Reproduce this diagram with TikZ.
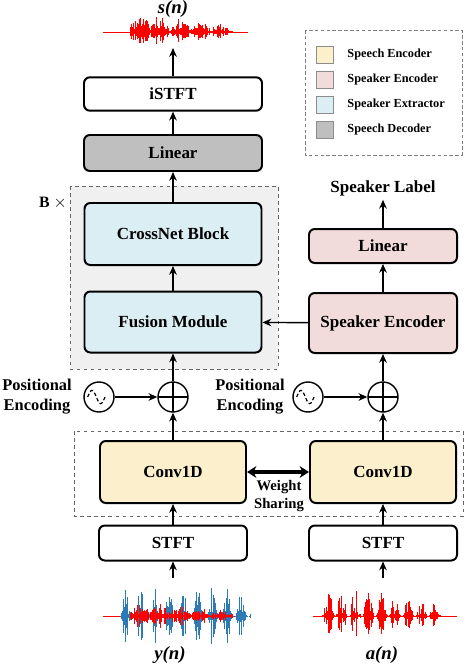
\documentclass[tikz,border=0pt]{standalone}
\usepackage{fontspec}
\setmainfont{Liberation Serif}
\usetikzlibrary{arrows.meta, positioning, calc}

\definecolor{encY}{HTML}{FCEFCB}
\definecolor{spkP}{HTML}{F2DCDB}
\definecolor{extB}{HTML}{DBEEF4}
\definecolor{decG}{HTML}{BFBFBF}
\definecolor{wavR}{HTML}{FF0000}
\definecolor{wavB}{HTML}{2C7BB6}

\tikzset{
  %% Module box
  mbox/.style={
    rectangle, rounded corners=5pt,
    draw=black, fill=#1,
    text centered, font=\bfseries\fontsize{14.5}{17}\selectfont,
    inner sep=2pt, line width=1.7pt
  },
  mbox/.default=white,
  %% Arrow
  arr/.style={-{Stealth[length=7.5pt,width=6.5pt]},
              draw=black, line width=1.2pt},
  %% Thick double arrow
  warr/.style={{Stealth[length=8pt,width=10pt]}-{Stealth[length=8pt,width=10pt]},
               draw=black, line width=2.8pt},
  %% Group frame
  grp/.style={draw=black!60, dashed, line width=0.7pt},
  %% Adder
  oplus/.style={
    circle, draw=black, line width=1.2pt, minimum size=9mm, inner sep=0pt,
    path picture={
      \draw[line width=1.2pt] (path picture bounding box.north) -- (path picture bounding box.south)
            (path picture bounding box.west) -- (path picture bounding box.east);}
  },
  %% Positional encoding
  pe/.style={
    circle, draw=black, line width=1.2pt, minimum size=9mm, inner sep=0pt,
    path picture={
      \draw[densely dashed, line width=1pt]
        ($(path picture bounding box.center)+(-3.4mm,0)$)
        sin ++(1.3mm,2mm) cos ++(1.3mm,-2mm) sin ++(1.3mm,-2mm) cos ++(1.3mm,2mm);}
  },
  lbl/.style={font=\bfseries\fontsize{14}{17}\selectfont, align=center},
  wlbl/.style={font=\bfseries\itshape\fontsize{16}{18}\selectfont},
  leg/.style={rectangle, draw=black!45, fill=#1, minimum width=5.1mm, minimum height=5.1mm, inner sep=0pt},
}

\begin{document}
\begin{tikzpicture}[x=0.3mm, y=-0.3mm]
  \useasboundingbox (0,0) rectangle (474,665);

  %% Frames
  \fill[black!6] (70,186) rectangle (278,369);
  \draw[grp] (70,186) rectangle (278,369);
  \draw[grp] (74,431) rectangle (463,516);

  %% Left column
  \node[mbox, minimum width=53.4mm, minimum height=10mm] (istft) at (173,94) {iSTFT};
  \node[mbox=decG, minimum width=53.4mm, minimum height=10.8mm] (lin) at (173,153) {Linear};
  \node[mbox=extB, minimum width=53.1mm, minimum height=18.6mm] (cross) at (173,234) {CrossNet Block};
  \node[mbox=extB, minimum width=53.1mm, minimum height=18.3mm] (fusion) at (173,322) {Fusion Module};
  \node[font=\bfseries\fontsize{13.5}{15}\selectfont] (bx) at (53,203) {B $\times$};
  \node[oplus] (addL) at (173,397) {};
  \node[pe] (peL) at (99,397) {};
  \node[lbl] (peLtxt) at (37,397) {Positional\\Encoding};
  \node[mbox=encY, minimum width=43.8mm, minimum height=18.6mm] (convL) at (173,472) {Conv1D};
  \node[mbox, minimum width=44.4mm, minimum height=10.5mm] (stftL) at (173,543) {STFT};

  %% Right column
  \node[lbl, font=\bfseries\fontsize{14.5}{17}\selectfont] (spklab) at (383,188) {Speaker Label};
  \node[mbox=spkP, minimum width=44.4mm, minimum height=10.2mm] (spklin) at (383,246) {Linear};
  \node[mbox=spkP, minimum width=44.4mm, minimum height=18mm] (spkenc) at (383,323) {Speaker Encoder};
  \node[oplus] (addR) at (383,397) {};
  \node[pe] (peR) at (308,397) {};
  \node[lbl] (peRtxt) at (250,397) {Positional\\Encoding};
  \node[mbox=encY, minimum width=43.8mm, minimum height=18.6mm] (convR) at (383,472) {Conv1D};
  \node[mbox, minimum width=44.4mm, minimum height=10.5mm] (stftR) at (383,543) {STFT};
  \node[lbl, font=\bfseries\fontsize{12.5}{15}\selectfont] (ws) at (279,496) {Weight\\Sharing};

  %% Signal labels
  \node[wlbl] (sn) at (173,9) {s(n)};
  \node[wlbl] (yn) at (170,655) {y(n)};
  \node[wlbl] (an) at (382,655) {a(n)};
  \coordinate (sout) at (173,48);
  \coordinate (yin) at (173,578);
  \coordinate (ain) at (383,578);

  %% Connectors
  \draw[arr] (istft) -- (sout);
  \draw[arr] (lin) -- (istft);
  \draw[arr] (cross) -- (lin);
  \draw[arr] (fusion) -- (cross);
  \draw[arr] (addL) -- (fusion);
  \draw[arr] (peL) -- (addL);
  \draw[arr] (convL) -- (addL);
  \draw[arr] (stftL) -- (convL);
  \draw[arr] (yin) -- (stftL);
  \draw[arr] (ain) -- (stftR);
  \draw[arr] (stftR) -- (convR);
  \draw[arr] (convR) -- (addR);
  \draw[arr] (peR) -- (addR);
  \draw[arr] (addR) -- (spkenc);
  \draw[arr] (spkenc) -- (spklin);
  \draw[arr] (spklin) -- (spklab);
  \draw[arr] (spkenc) -- (fusion);
  \draw[warr] (convL) -- (convR);

  %% Waveforms
  \pgfmathsetseed{11}
  \draw[wavR, line width=0.6pt] (103,32) -- (248,32);
  \foreach \i in {0,...,102} {
    \pgfmathsetmacro{\a}{17*(0.15+0.85*rnd)*(0.3+0.7*abs(sin(9*\i)))*(1.25-\i/125)}
    \draw[wavR, line width=0.7pt] (130+\i,32-\a) -- (130+\i,32+0.8*\a);
  }
  \draw[wavR, line width=0.6pt] (103,616) -- (248,616);
  \foreach \i in {0,...,130} {
    \pgfmathsetmacro{\a}{30*(0.1+0.9*rnd)*abs(sin(12.5*\i+20))^3}
    \draw[wavB, line width=0.7pt] (120+\i,616-\a) -- (120+\i,616+\a);
  }
  \foreach \i in {0,...,102} {
    \pgfmathsetmacro{\a}{12*(0.15+0.85*rnd)*(0.3+0.7*abs(sin(9*\i)))*(1.25-\i/125)}
    \draw[wavR, line width=0.7pt] (130+\i,616-\a) -- (130+\i,616+\a);
  }
  \draw[wavR, line width=0.6pt] (313,616) -- (457,616);
  \foreach \i in {0,...,120} {
    \pgfmathsetmacro{\a}{30*(0.1+0.9*rnd)*abs(sin(13.5*\i+10))^2*(1.1-\i/200)}
    \draw[wavR, line width=0.7pt] (322+\i,616-\a) -- (322+\i,616+0.8*\a);
  }

  %% Legend
  \draw[black!50, densely dashed, line width=0.6pt] (305,30) rectangle (462,155);
  \foreach \c/\t [count=\k] in {encY/Speech Encoder, spkP/Speaker Encoder,
                               extB/Speaker Extractor, decG/Speech Decoder} {
    \node[leg=\c] (leg\k) at (324.5,30+25*\k) {};
    \node[right=4.2mm of leg\k, font=\bfseries\fontsize{10.5}{12}\selectfont, inner sep=0pt] (legtxt\k) {\t};
  }

\end{tikzpicture}
\end{document}
